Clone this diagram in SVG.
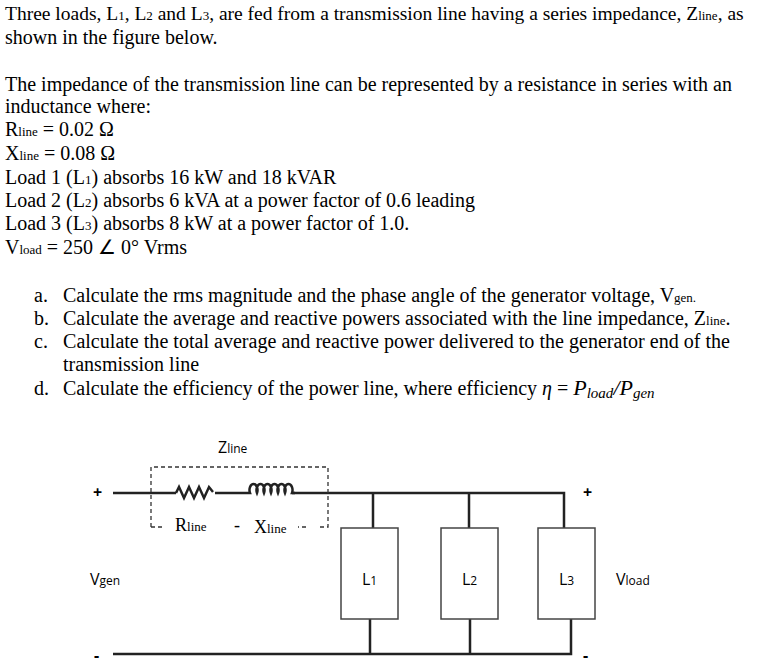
<svg xmlns="http://www.w3.org/2000/svg" width="762" height="671" viewBox="0 0 762 671">
<style>
.t{font-family:"Liberation Serif",serif;font-size:20px;fill:#000}
.s{font-size:13px}
.c{font-family:"Open Sans","Liberation Sans",sans-serif;font-size:16px;fill:#000}
.w{stroke:#222;stroke-width:2.5;fill:none}
.b{stroke:#444;stroke-width:1.5;fill:#fff}
.d{stroke:#333;stroke-width:1.3;fill:none;stroke-dasharray:4,3}
</style>
<rect width="762" height="671" fill="#fff"/>
<g id="text">
<text class="t" x="5" y="20" style="font-size:19.5px">Three loads, L<tspan class="s">1</tspan>, L<tspan class="s">2</tspan> and L<tspan class="s">3</tspan>, are fed from a transmission line having a series impedance, Z<tspan class="s">line</tspan>, as</text>
<text class="t" x="5" y="44">shown in the figure below.</text>
<text class="t" x="5" y="91" textLength="727" lengthAdjust="spacingAndGlyphs">The impedance of the transmission line can be represented by a resistance in series with an</text>
<text class="t" x="5" y="113">inductance where:</text>
<text class="t" x="5" y="136">R<tspan class="s">line</tspan> = 0.02 Ω</text>
<text class="t" x="5" y="160">X<tspan class="s">line</tspan> = 0.08 Ω</text>
<text class="t" x="5" y="184">Load 1 (L<tspan class="s">1</tspan>) absorbs 16 kW and 18 kVAR</text>
<text class="t" x="5" y="207">Load 2 (L<tspan class="s">2</tspan>) absorbs 6 kVA at a power factor of 0.6 leading</text>
<text class="t" x="5" y="230">Load 3 (L<tspan class="s">3</tspan>) absorbs 8 kW at a power factor of 1.0.</text>
<text class="t" x="5" y="254">V<tspan class="s">load</tspan> = 250 ∠ 0° Vrms</text>
<text class="t" x="34" y="302">a.</text>
<text class="t" x="63" y="302">Calculate the rms magnitude and the phase angle of the generator voltage, V<tspan class="s">gen.</tspan></text>
<text class="t" x="34" y="325">b.</text>
<text class="t" x="63" y="325">Calculate the average and reactive powers associated with the line impedance, Z<tspan class="s">line</tspan>.</text>
<text class="t" x="34" y="348">c.</text>
<text class="t" x="63" y="348" textLength="667" lengthAdjust="spacingAndGlyphs">Calculate the total average and reactive power delivered to the generator end of the</text>
<text class="t" x="63" y="371">transmission line</text>
<text class="t" x="34" y="395">d.</text>
<text class="t" x="63" y="395">Calculate the efficiency of the power line, where efficiency  <tspan font-style="italic">η</tspan> = <tspan font-style="italic" style="font-size:22px">P<tspan class="s" style="font-size:15px" dy="3">load</tspan><tspan dy="-3">/P</tspan><tspan class="s" style="font-size:15px" dy="3">gen</tspan></tspan></text>
</g>
<g id="connectors">
<path class="w" d="M113 493H176M215 493H247M292 493H564V528M373 493V528M469 493V528"/>
<path class="w" d="M176 493l3-6 5 11 5-11 5 11 5-11 5 11 5-11 4 5"/>
<path class="w" stroke-width="2" d="M247 493h3a4 6 0 1 1 7 0a4 6 0 1 1 7 0a4 6 0 1 1 7 0a4 6 0 1 1 7 0a4 6 0 1 1 7 0a4 6 0 1 1 7 0h3"/>
<path class="w" d="M113 654H571V619M370 619V654M470 619V654"/>
<path class="d" d="M151 527V467H328V527H318M151 527H162M306 527H298"/>
</g>
<g id="L1"><rect class="b" x="341" y="528" width="57" height="91"/><text class="c" x="362" y="585">L<tspan font-size="12">1</tspan></text></g>
<g id="L2"><rect class="b" x="441" y="528" width="57" height="91"/><text class="c" x="462" y="585">L<tspan font-size="12">2</tspan></text></g>
<g id="L3"><rect class="b" x="538" y="528" width="57" height="91"/><text class="c" x="559" y="585">L<tspan font-size="12">3</tspan></text></g>
<g id="labels">
<text class="c" x="218" y="453">Z<tspan font-size="12">line</tspan></text>
<text class="t" x="175" y="531" style="font-size:18px">R<tspan font-size="13">line</tspan></text>
<text class="t" x="234" y="531" style="font-size:18px">-</text>
<text class="t" x="254" y="533" style="font-size:18px">X<tspan font-size="13">line</tspan></text>
<text class="c" x="93" y="498" font-weight="bold">+</text>
<text class="c" x="583" y="498" font-weight="bold">+</text>
<text class="c" x="94" y="661" font-weight="bold">-</text>
<text class="c" x="583" y="661" font-weight="bold">-</text>
<text class="c" x="90" y="585">V<tspan font-size="12">gen</tspan></text>
<text class="c" x="616" y="585">V<tspan font-size="12">load</tspan></text>
</g>
</svg>
